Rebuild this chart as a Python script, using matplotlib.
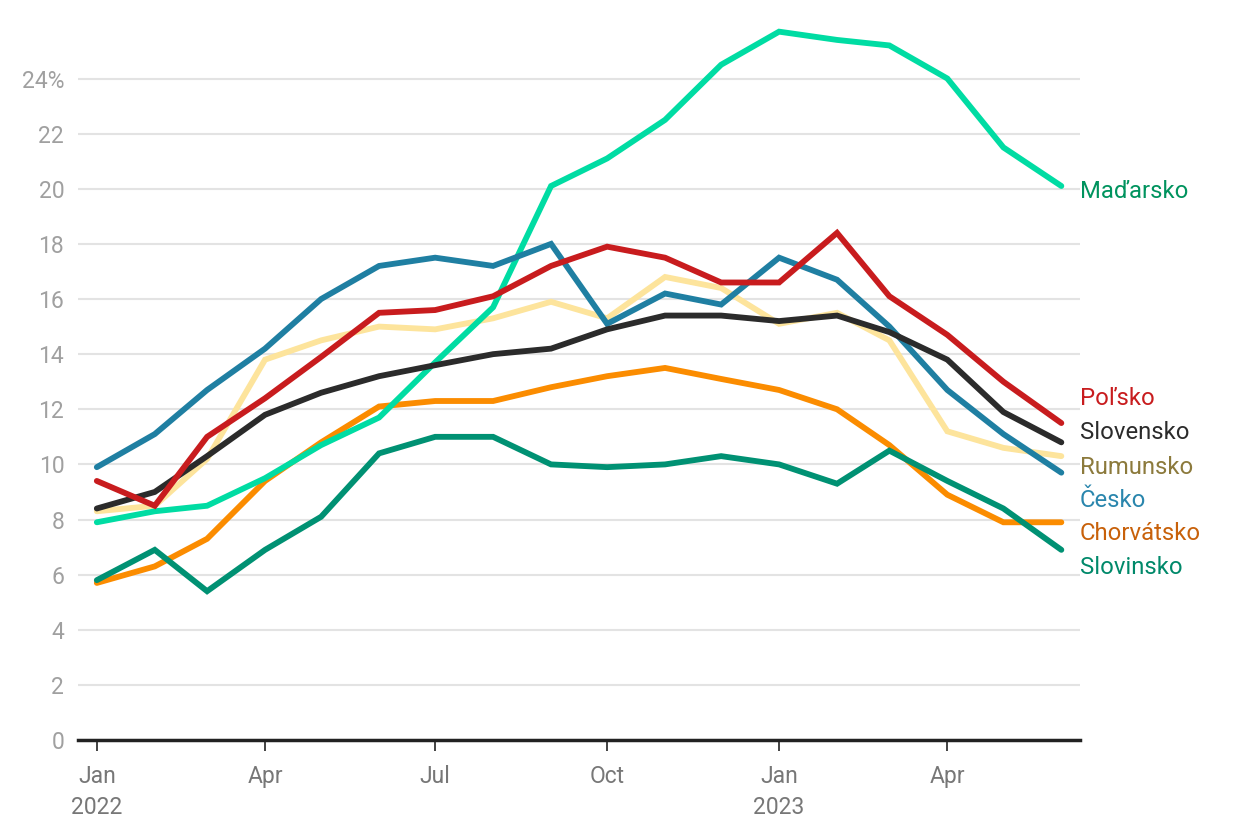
import matplotlib.pyplot as plt
import matplotlib.dates as md
import numpy as np
import pandas as pd

plt.rcParams['font.family'] = ['Roboto', 'DejaVu Sans']

months = pd.date_range('2022-01-01', '2023-06-01', freq='MS')

madarsko = [7.9, 8.3, 8.5, 9.5, 10.7, 11.7, 13.7, 15.7, 20.1, 21.1, 22.5, 24.5,
            25.7, 25.4, 25.2, 24.0, 21.5, 20.1]
polsko = [9.4, 8.5, 11.0, 12.4, 13.9, 15.5, 15.6, 16.1, 17.2, 17.9, 17.5, 16.6,
          16.6, 18.4, 16.1, 14.7, 13.0, 11.5]
slovensko = [8.4, 9.0, 10.3, 11.8, 12.6, 13.2, 13.6, 14.0, 14.2, 14.9, 15.4, 15.4,
             15.2, 15.4, 14.8, 13.8, 11.9, 10.8]
rumunsko = [8.3, 8.5, 10.2, 13.8, 14.5, 15.0, 14.9, 15.3, 15.9, 15.3, 16.8, 16.4,
            15.1, 15.5, 14.5, 11.2, 10.6, 10.3]
cesko = [9.9, 11.1, 12.7, 14.2, 16.0, 17.2, 17.5, 17.2, 18.0, 15.1, 16.2, 15.8,
         17.5, 16.7, 15.0, 12.7, 11.1, 9.7]
chorvatsko = [5.7, 6.3, 7.3, 9.4, 10.8, 12.1, 12.3, 12.3, 12.8, 13.2, 13.5, 13.1,
              12.7, 12.0, 10.7, 8.9, 7.9, 7.9]
slovinsko = [5.8, 6.9, 5.4, 6.9, 8.1, 10.4, 11.0, 11.0, 10.0, 9.9, 10.0, 10.3,
             10.0, 9.3, 10.5, 9.4, 8.4, 6.9]

# name, values, line colour, label colour, label y position
series = [
    ('Rumunsko', rumunsko, '#fde49c', '#8c7a3c', 9.9),
    ('Chorvátsko', chorvatsko, '#fb8c00', '#c8610a', 7.5),
    ('Slovinsko', slovinsko, '#009173', '#00896a', 6.25),
    ('Maďarsko', madarsko, '#00dca3', '#00935e', 19.9),
    ('Česko', cesko, '#1f7fa2', '#2a86ad', 8.7),
    ('Slovensko', slovensko, '#2b2b2b', '#2b2b2b', 11.15),
    ('Poľsko', polsko, '#c81c1e', '#c81c1e', 12.4),
]

fig = plt.figure(figsize=(12.4, 8.4), dpi=100)
ax = fig.add_axes([0.063, 0.119, 0.808, 0.863])

for name, vals, c, lc, ly in series:
    ax.plot(months, vals, color=c, lw=4.2, solid_capstyle='round', solid_joinstyle='miter', zorder=3)
    ax.text(months[-1] + pd.Timedelta(days=10), ly, name, color=lc, fontsize=17.2,
            va='center', ha='left')

ax.set_ylim(0, 26.3)
ax.set_xlim(pd.Timestamp('2021-12-22'), pd.Timestamp('2023-06-11'))

yt = np.arange(0, 25, 2)
ax.set_yticks(yt)
ax.set_yticklabels([str(v) if v != 24 else '24%' for v in yt])
ax.yaxis.grid(True, color='#e3e3e3', lw=1.5)
ax.set_axisbelow(True)

xt = pd.to_datetime(['2022-01-01', '2022-04-01', '2022-07-01', '2022-10-01', '2023-01-01', '2023-04-01'])
ax.set_xticks(xt)
ax.set_xticklabels(['Jan\n2022', 'Apr', 'Jul', 'Oct', 'Jan\n2023', 'Apr'], linespacing=1.45, va='top')

for s in ['top', 'right', 'left']:
    ax.spines[s].set_visible(False)
ax.spines['bottom'].set_linewidth(2.5)
ax.spines['bottom'].set_color('#222222')

ax.tick_params(axis='y', length=0, pad=10, labelsize=16.5, labelcolor='#a0a0a0')
ax.tick_params(axis='x', length=8, width=1.2, color='#222222', pad=10,
               labelsize=16.5, labelcolor='#777777')

fig.savefig('out.png', dpi=100)
